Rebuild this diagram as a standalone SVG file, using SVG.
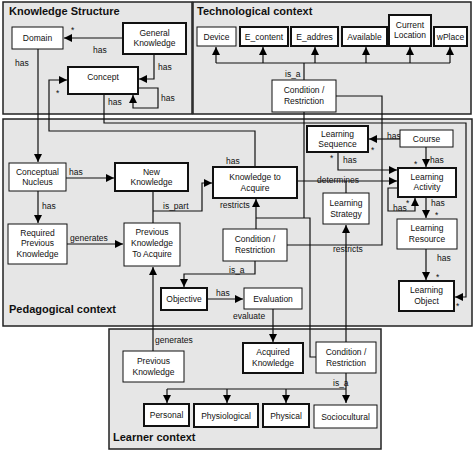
<svg xmlns="http://www.w3.org/2000/svg" width="474" height="454" viewBox="0 0 474 454">
<defs>
<marker id="ar" markerUnits="userSpaceOnUse" markerWidth="8" markerHeight="8" refX="8" refY="4" orient="auto"><path d="M0,0 L8,4 L0,8 z" fill="#000"/></marker>
</defs>
<style>
.panel{fill:#e6e6e6;stroke:#222;stroke-width:1.5}
.nb{fill:#fff;stroke:#111;stroke-width:1}
.tb{fill:#fff;stroke:#111;stroke-width:2}
text{font-family:"Liberation Sans",Arial,sans-serif;font-size:8.5px;fill:#111}
.t{text-anchor:middle}
.title{font-size:11px;font-weight:bold}
.c path,.c line{fill:none;stroke:#111;stroke-width:1.2}
.a{marker-end:url(#ar)}
</style>
<rect width="474" height="454" fill="#fff"/>
<!-- panels -->
<g id="panel-knowledge"><rect class="panel" x="3" y="2" width="189" height="112"/><text class="title" x="9" y="15">Knowledge Structure</text></g>
<g id="panel-tech"><rect class="panel" x="193" y="2" width="278" height="112"/><text class="title" x="197" y="15">Technological context</text></g>
<g id="panel-ped"><rect class="panel" x="3" y="119" width="469" height="207"/><text class="title" x="9" y="313">Pedagogical context</text></g>
<g id="panel-learner"><rect class="panel" x="109" y="329" width="272" height="120"/><text class="title" x="113" y="441">Learner context</text></g>

<!-- connectors -->
<g id="connectors" class="c">
<path class="a" d="M123,38 H64"/>
<path class="a" d="M154,54 V79 H139"/>
<path class="a" d="M138,88 H158 V108 H133 V95"/>
<path class="a" d="M255,167 V131 H49 V80 H67"/>
<path class="a" d="M38,49 V162"/>
<path class="a" d="M104,94 V123 H466 V297 H455"/>
<path d="M216,63 H450 M304,63 V80"/>
<path class="a" d="M216,63 V47"/>
<path class="a" d="M263,63 V47"/>
<path class="a" d="M315,63 V47"/>
<path class="a" d="M366,63 V47"/>
<path class="a" d="M410,63 V47"/>
<path class="a" d="M450,63 V47"/>
<path d="M336,96 H382 V245 H287"/>
<path d="M304,112 V218"/>
<path class="a" d="M256,229 V199"/>
<path d="M256,218 H310 V357 H316"/>
<path class="a" d="M66,178 H114"/>
<path class="a" d="M38,191 V223"/>
<path class="a" d="M67,244 H123"/>
<path d="M153,191 V223"/>
<path class="a" d="M153,211 H202 V183 H212"/>
<path class="a" d="M153,351 V267"/>
<path class="a" d="M297,181 H397"/>
<path d="M346,193 V181"/>
<path class="a" d="M338,152 V170 H397"/>
<path class="a" d="M400,139 H369"/>
<path class="a" d="M426,147 V167"/>
<path class="a" d="M398,188 H388 V211 H415 V198"/>
<path class="a" d="M426,197 V218"/>
<path class="a" d="M426,249 V280"/>
<path class="a" d="M255,261 V274 H184 V287"/>
<path class="a" d="M207,299 H243"/>
<path class="a" d="M273,309 V342"/>
<path class="a" d="M346,342 V225"/>
<path d="M167,389 H346"/>
<path class="a" d="M346,373 V403"/>
<path class="a" d="M167,389 V403"/>
<path class="a" d="M227,389 V403"/>
<path class="a" d="M286,389 V403"/>
</g>

<!-- connector labels -->
<g id="labels">
<text x="93" y="53">has</text>
<text x="71" y="33">*</text>
<text x="15" y="66">has</text>
<text x="158" y="70">has</text>
<text x="161" y="101">has</text>
<text x="108" y="105">has</text>
<text x="56" y="96">*</text>
<text x="285" y="77">is_a</text>
<text x="69" y="175">has</text>
<text x="42" y="209">has</text>
<text x="70" y="241">generates</text>
<text x="163" y="209">is_part</text>
<text x="226" y="164">has</text>
<text x="220" y="208">restricts</text>
<text x="317" y="183">determines</text>
<text x="333" y="252">restricts</text>
<text x="387" y="139">has</text>
<text x="371" y="153">*</text>
<text x="430" y="163">has</text>
<text x="414" y="167">*</text>
<text x="343" y="163">has</text>
<text x="330" y="161">*</text>
<text x="393" y="211">has</text>
<text x="406" y="206">*</text>
<text x="431" y="206">has</text>
<text x="435" y="218">*</text>
<text x="437" y="261">has</text>
<text x="436" y="280">*</text>
<text x="456" y="309">*</text>
<text x="229" y="273">is_a</text>
<text x="216" y="296">has</text>
<text x="233" y="319">evaluate</text>
<text x="155" y="343">generates</text>
<text x="333" y="386">is_a</text>
</g>

<!-- Knowledge structure nodes -->
<g id="domain"><rect class="nb" x="12" y="27" width="51" height="22"/><text class="t" x="37.5" y="41">Domain</text></g>
<g id="general-knowledge"><rect class="tb" x="123" y="23" width="63" height="31"/><text class="t" x="154.5" y="36">General</text><text class="t" x="154.5" y="46">Knowledge</text></g>
<g id="concept"><rect class="tb" x="68" y="67" width="70" height="27"/><text class="t" x="103" y="80">Concept</text></g>

<!-- Technological nodes -->
<g id="device"><rect class="nb" x="197" y="27" width="39" height="19"/><text class="t" x="216.5" y="39.5">Device</text></g>
<g id="e-content"><rect class="tb" x="240" y="27" width="48" height="19"/><text class="t" x="264" y="39.5">E_content</text></g>
<g id="e-addres"><rect class="tb" x="291" y="27" width="47" height="19"/><text class="t" x="314.5" y="39.5">E_addres</text></g>
<g id="available"><rect class="tb" x="342" y="27" width="45" height="19"/><text class="t" x="364.5" y="39.5">Available</text></g>
<g id="current-location"><rect class="tb" x="389" y="15" width="42" height="31"/><text class="t" x="410" y="28">Current</text><text class="t" x="410" y="38">Location</text></g>
<g id="wplace"><rect class="tb" x="434" y="27" width="33" height="19"/><text class="t" x="450.5" y="39.5">wPlace</text></g>
<g id="tech-condition"><rect class="nb" x="272" y="80" width="64" height="32"/><text class="t" x="304" y="93">Condition /</text><text class="t" x="304" y="104">Restriction</text></g>

<!-- Pedagogical nodes -->
<g id="conceptual-nucleus"><rect class="nb" x="9" y="163" width="57" height="28"/><text class="t" x="37.5" y="175">Conceptual</text><text class="t" x="37.5" y="185">Nucleus</text></g>
<g id="new-knowledge"><rect class="tb" x="115" y="163" width="73" height="28"/><text class="t" x="151.5" y="175">New</text><text class="t" x="151.5" y="185">Knowledge</text></g>
<g id="required-previous-knowledge"><rect class="nb" x="8" y="224" width="59" height="40"/><text class="t" x="37.5" y="236">Required</text><text class="t" x="37.5" y="246">Previous</text><text class="t" x="37.5" y="257">Knowledge</text></g>
<g id="previous-knowledge-to-acquire"><rect class="nb" x="124" y="223" width="56" height="43"/><text class="t" x="152" y="235">Previous</text><text class="t" x="152" y="246">Knowledge</text><text class="t" x="152" y="257">To Acquire</text></g>
<g id="knowledge-to-acquire"><rect class="tb" x="213" y="167" width="84" height="31"/><text class="t" x="255" y="180">Knowledge to</text><text class="t" x="255" y="191">Acquire</text></g>
<g id="ped-condition"><rect class="nb" x="223" y="229" width="64" height="32"/><text class="t" x="255" y="242">Condition /</text><text class="t" x="255" y="253">Restriction</text></g>
<g id="objective"><rect class="tb" x="161" y="288" width="46" height="22"/><text class="t" x="184" y="302">Objective</text></g>
<g id="evaluation"><rect class="nb" x="244" y="288" width="58" height="21"/><text class="t" x="273" y="301.5">Evaluation</text></g>
<g id="learning-sequence"><rect class="tb" x="307" y="126" width="61" height="26"/><text class="t" x="337.5" y="137">Learning</text><text class="t" x="337.5" y="147">Sequence</text></g>
<g id="course"><rect class="nb" x="400" y="130" width="53" height="17"/><text class="t" x="426.5" y="142">Course</text></g>
<g id="learning-activity"><rect class="tb" x="398" y="168" width="58" height="29"/><text class="t" x="427" y="180">Learning</text><text class="t" x="427" y="190">Activity</text></g>
<g id="learning-strategy"><rect class="nb" x="323" y="193" width="46" height="31"/><text class="t" x="346" y="206">Learning</text><text class="t" x="346" y="217">Strategy</text></g>
<g id="learning-resource"><rect class="nb" x="397" y="219" width="60" height="30"/><text class="t" x="427" y="231">Learning</text><text class="t" x="427" y="242">Resource</text></g>
<g id="learning-object"><rect class="tb" x="399" y="281" width="55" height="30"/><text class="t" x="426.5" y="293">Learning</text><text class="t" x="426.5" y="304">Object</text></g>

<!-- Learner nodes -->
<g id="previous-knowledge"><rect class="nb" x="123" y="351" width="61" height="31"/><text class="t" x="153.5" y="364">Previous</text><text class="t" x="153.5" y="375">Knowledge</text></g>
<g id="acquired-knowledge"><rect class="tb" x="243" y="343" width="60" height="30"/><text class="t" x="273" y="355">Acquired</text><text class="t" x="273" y="366">Knowledge</text></g>
<g id="learner-condition"><rect class="nb" x="316" y="342" width="60" height="31"/><text class="t" x="346" y="355">Condition /</text><text class="t" x="346" y="366">Restriction</text></g>
<g id="personal"><rect class="tb" x="144" y="404" width="45" height="22"/><text class="t" x="166.5" y="418">Personal</text></g>
<g id="physiological"><rect class="tb" x="194" y="404" width="64" height="23"/><text class="t" x="226" y="418.5">Physiological</text></g>
<g id="physical"><rect class="tb" x="263" y="404" width="46" height="23"/><text class="t" x="286" y="418.5">Physical</text></g>
<g id="sociocultural"><rect class="nb" x="314" y="405" width="63" height="23"/><text class="t" x="345.5" y="419.5">Sociocultural</text></g>
</svg>
